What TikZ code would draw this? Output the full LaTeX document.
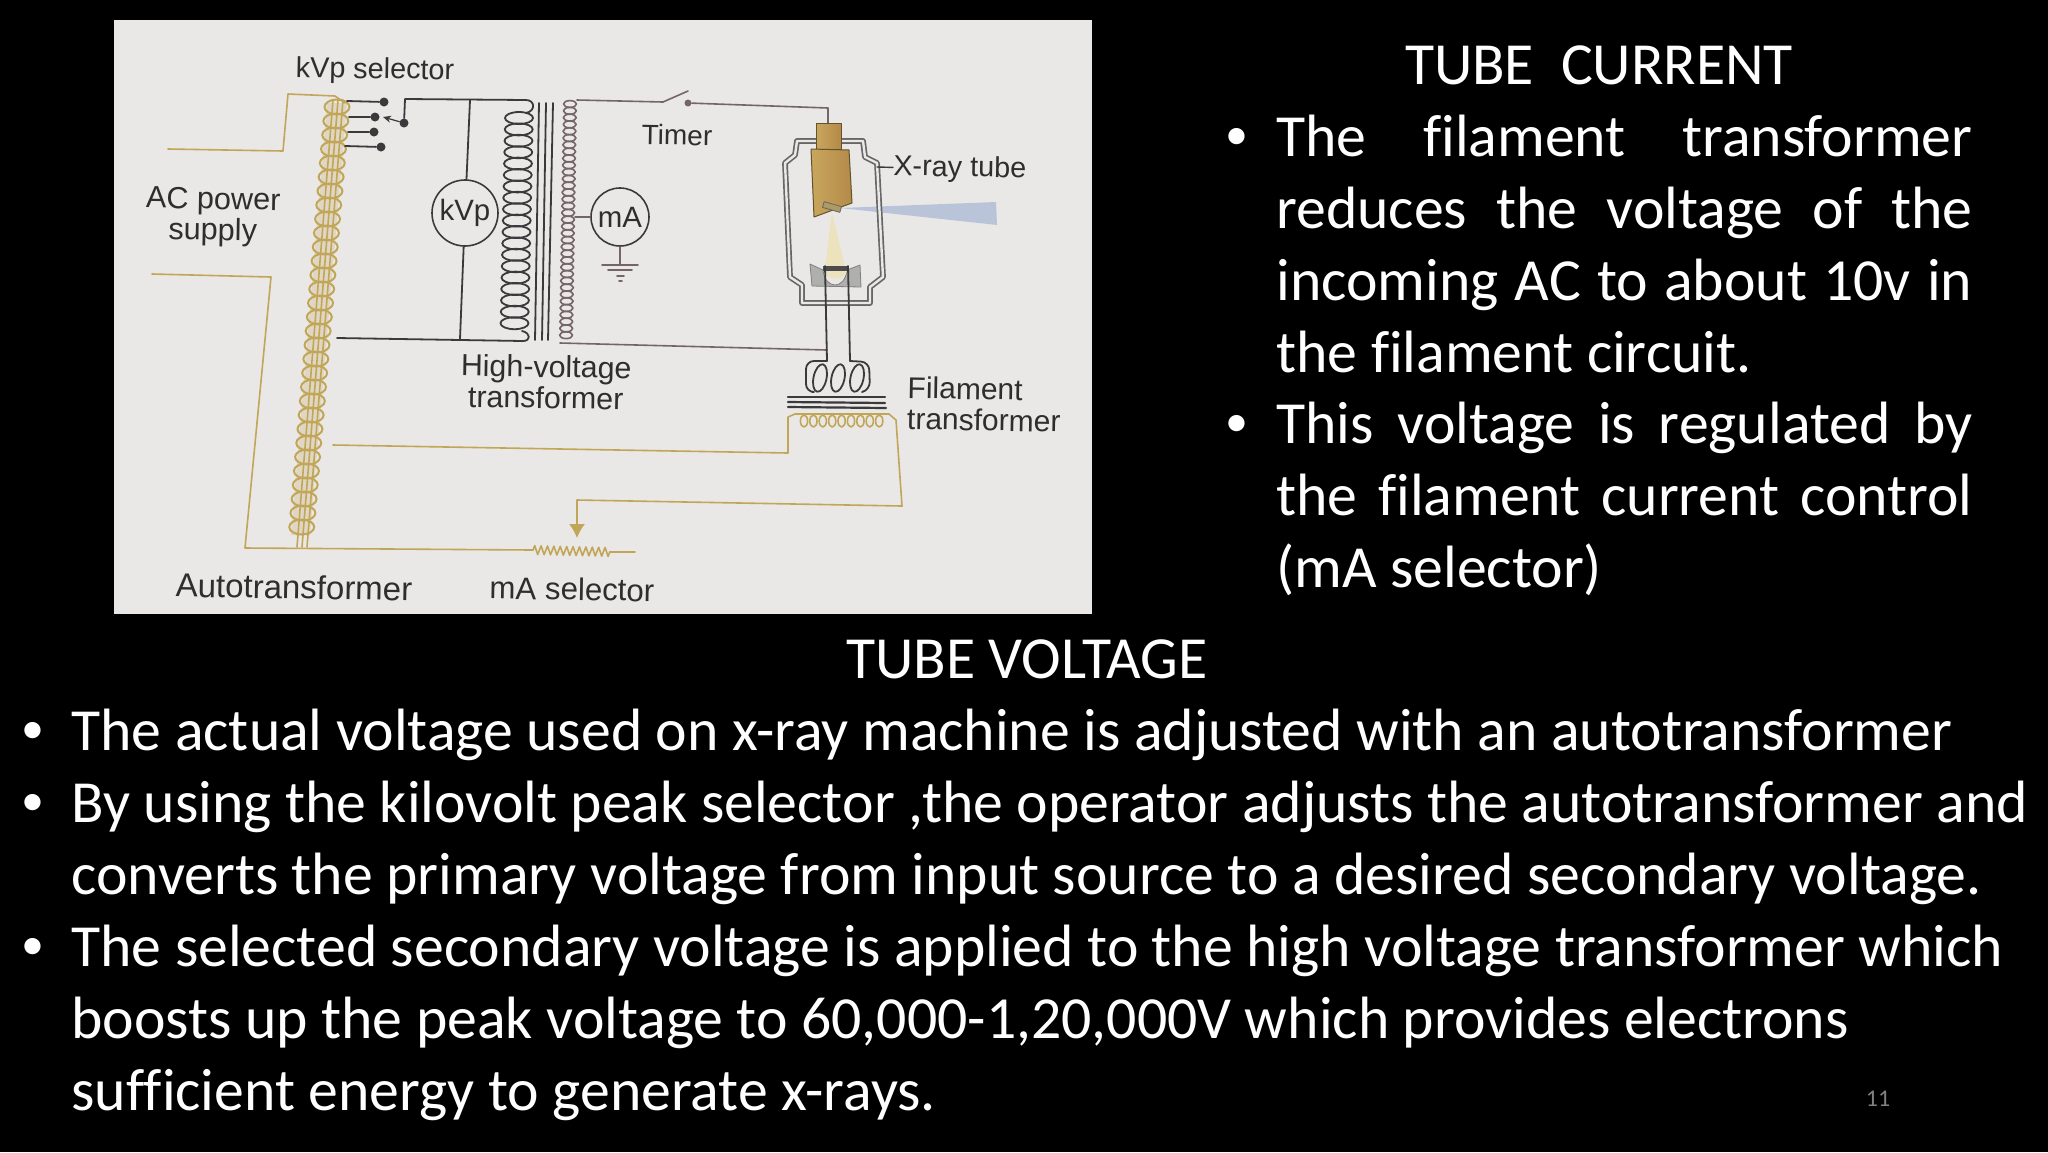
\documentclass[tikz,border=0pt]{standalone}
\usepackage{fontspec}
\usepackage{xcolor}
\setmainfont[Ligatures=NoCommon]{Carlito}
\newfontfamily\figfont{Liberation Sans}
\usetikzlibrary{arrows.meta,decorations.pathmorphing}
\definecolor{paper}{HTML}{E9E8E6}
\definecolor{gold}{HTML}{C2A658}
\definecolor{ink}{HTML}{3A3A3C}
\definecolor{rose}{HTML}{75646A}
\definecolor{brassL}{HTML}{C9A65E}
\definecolor{brassM}{HTML}{E6CD97}
\definecolor{brassR}{HTML}{B48A48}
\definecolor{xbeam}{HTML}{BAC4D9}
\definecolor{ebeam}{HTML}{EDE2BE}
\tikzset{
  wire/.style={draw=gold,line width=0.8pt},
  lead/.style={draw=ink,line width=0.9pt},
  thinlead/.style={draw=rose,line width=0.8pt},
  tag/.style={font=\figfont\fontsize{#1}{15.5}\selectfont,text=black!82,align=center,inner sep=0pt,rotate=-1},
  tag/.default=15,
  meter/.style={circle,draw=ink,line width=0.8pt,minimum size=#1,inner sep=0pt,font=\figfont\fontsize{14.7}{16}\selectfont,text=black!82},
  dot/.style={circle,fill=ink,inner sep=0pt,minimum size=4.5pt},
  slide/.style={font=\fontsize{29.87}{35.9}\selectfont,text=white,inner sep=0pt,anchor=north west,align=left},
  justi/.style={slide,text width=348pt,align=justify},
  head/.style={font=\fontsize{29.87}{35.9}\selectfont,text=white,inner sep=0pt},
  blob/.style={font=\fontsize{23}{24}\selectfont,text=white,inner sep=0pt}
}
\begin{document}
\begin{tikzpicture}[line cap=round,line join=round,x=0.5pt,y=-0.5pt]
\useasboundingbox (0,0) rectangle (2048,1152);
\fill[black] (0,0) rectangle (2048,1152);
\fill[paper] (114,20) rectangle (1092,614);
% autotransformer
\fill[gold!25!paper] (327,103)-- (347,103)-- (310,535)-- (291,535)-- cycle;
\foreach \i [evaluate=\i as \cy using 107+14*\i, evaluate=\i as \cx using 337-0.084*14*\i] in {0,...,30}
  \draw[wire,line width=1pt] (\cx,\cy) ellipse [x radius=12.5,y radius=7.5];
\draw[wire] (333,100)-- (297,547);
\draw[wire] (338,100)-- (302,547);
\draw[wire] (343,100)-- (307,547);
% mains and mA circuit
\draw[wire] (168,149)-- (283,151)-- (288,94)-- (335,96)-- (345,103);
\draw[wire] (152,274)-- (271,277)-- (245,548)-- (533,550);
\draw[wire,decorate,decoration={zigzag,segment length=3.2pt,amplitude=2.2pt}] (533,550)-- (610,552);
\draw[wire] (610,552)-- (635,552);
\draw[wire,-{Latex[length=7pt,width=8pt]}] (902,506)-- (577,500)-- (577,538);
\draw[wire] (902,506)-- (896,420)-- (889,414)-- (795,414)-- (788,417)-- (788,453)-- (333,445);
\foreach \i [evaluate=\i as \cx using 804+9.4*\i] in {0,...,8}
  \draw[wire] (\cx,421) ellipse [x radius=3.6,y radius=6];
% kVp selector
\node[dot] (tapA) at (384,102) {};
\node[dot] (tapB) at (375,117) {};
\node[dot] (tapC) at (374,132) {};
\node[dot] (tapD) at (381,147) {};
\node[dot] (pivot) at (404,123) {};
\coordinate (coilA) at (347,101);
\coordinate (coilB) at (349,117);
\coordinate (coilC) at (348,132);
\coordinate (coilD) at (345,146);
\draw[lead] (coilA)-- (tapA);
\draw[lead] (coilB)-- (tapB);
\draw[lead] (coilC)-- (tapC);
\draw[lead] (coilD)-- (tapD);
\draw[draw=ink,line width=0.6pt,-{Stealth[length=4pt,width=3.5pt]}] (pivot)-- (383,117);
% high-voltage transformer
\foreach \i [evaluate=\i as \cy using 118+11.4*\i, evaluate=\i as \cx using 519-0.022*11.4*\i] in {0,...,18}
  \draw[lead] (\cx,\cy) ellipse [x radius=14,y radius=6];
\draw[lead] (pivot)-- (405,99)-- (526,100) .. controls (535,100) and (536,111) .. (526,113);
\draw[lead] (337,338)-- (523,341) .. controls (531,341) and (531,333) .. (522,331);
\draw[lead] (539,103)-- (535,340);
\draw[lead] (546,103)-- (542,340);
\draw[lead] (553,103)-- (548,340);
\foreach \i [evaluate=\i as \cy using 104+6.8*\i, evaluate=\i as \cx using 570-0.017*6.8*\i] in {0,...,34}
  \draw[thinlead] (\cx,\cy) ellipse [x radius=6.5,y radius=3.4];
\node[meter=33pt] (kvp) at (465,213) {kVp};
\node[meter=29pt] (ma) at (620,217) {mA};
\coordinate (kvpTop) at (470,100);
\coordinate (kvpEnd) at (460,339);
\draw[lead] (kvpTop)-- (kvp);
\draw[lead] (kvp)-- (kvpEnd);
\coordinate (secTap) at (575,217);
\coordinate (gndTop) at (620,265);
\draw[thinlead] (secTap)-- (ma);
\draw[thinlead] (ma)-- (gndTop);
\draw[thinlead] (602,265)-- (638,265);
\draw[thinlead] (608,270)-- (632,270);
\draw[thinlead] (617,276)-- (624,276);
\draw[thinlead] (619,281)-- (622,281);
% timer
\node[dot,fill=rose,minimum size=3.5pt] (timerDot) at (688,103) {};
\draw[thinlead] (577,100)-- (663,102)-- (688,91);
\draw[thinlead] (timerDot)-- (828,108)-- (828,123);
\draw[thinlead] (560,343)-- (827,350);
% x-ray tube
\fill[xbeam] (840,208)-- (996,202)-- (997,225)-- cycle;
\fill[ebeam] (832,212)-- (825,267)-- (845,267)-- cycle;
\draw[draw=black!60,line width=0.85pt,double=paper,double distance=1.2pt] (797,141)-- (863,141)-- (865,157)-- (877,163)-- (883,277)-- (870,287)-- (870,303)-- (802,303)-- (802,285)-- (790,277)-- (785,163)-- (795,155)-- cycle;
\shade[left color=brassL,middle color=brassM,right color=brassR,draw=black!50!gold,line width=0.5pt] (816,123) rectangle (841,149);
\shade[left color=brassL,middle color=brassM,right color=brassR,draw=black!50!gold,line width=0.5pt] (811,149)-- (849,150)-- (852,203)-- (814,217)-- cycle;
\fill[draw=black!60,fill=gold!70!gray,rotate around={-16:(832,207)}] (823,204) rectangle (841,210);
\fill[draw=black!50,fill=gray!55!paper] (810,264)-- (823,270) .. controls (825,290) and (845,290) .. (847,270)-- (860,265)-- (861,287)-- (812,286)-- cycle;
\fill[ebeam] (824,271) .. controls (825,281) and (846,281) .. (847,271)-- cycle;
\fill[black!70] (823,266) rectangle (847,271);
\draw[lead] (825,266)-- (827,361);
\draw[lead] (848,266)-- (850,361);
\coordinate (tubeEdge) at (877,167);
\node[tag=14.4,anchor=west] (tubelab) at (893,168) {X-ray tube};
\draw[lead,line width=0.7pt] (tubeEdge)-- (tubelab);
% filament transformer
\draw[lead,rounded corners=4pt] (827,361)-- (806,361)-- (806,392)-- (812,392);
\draw[lead,rounded corners=4pt] (850,361)-- (869,362)-- (870,390)-- (862,392);
\draw[lead,rotate around={-12:(820,378)}] (820,378) ellipse [x radius=6.5,y radius=14];
\draw[lead,rotate around={-12:(838,378)}] (838,378) ellipse [x radius=6.5,y radius=14];
\draw[lead,rotate around={-12:(857,378)}] (857,378) ellipse [x radius=6.5,y radius=14];
\draw[lead,line width=1.1pt] (788,397)-- (885,397);
\draw[lead,line width=1.1pt] (788,402)-- (885,403);
\draw[lead,line width=1.1pt] (788,407)-- (886,408);
% labels on the figure
\node[tag=14.4] (kvplab) at (375,71) {kVp selector};
\node[tag=15.3] (aclab) at (213,217) {AC power\\supply};
\node[tag=14] (timerlab) at (677,135) {Timer};
\node[tag=15.2] (hvlab) at (546,382) {High-voltage\\transformer};
\node[tag=15,align=left,anchor=west] (fillab) at (907,403) {Filament\\transformer};
\node[tag=16.5] (autolab) at (294,587) {Autotransformer};
\node[tag=15.6] (malab) at (572,589) {mA selector};
% slide text
\node[head] (curhead) at (1599,65) {TUBE\ \ CURRENT};
\node[blob] (curdotA) at (1237,139) {\textbullet};
\node[justi] (curA) at (1276,115) {The filament transformer\linebreak reduces the voltage of the\linebreak incoming AC to about 10v in\linebreak the filament circuit.};
\node[blob] (curdotB) at (1237,426) {\textbullet};
\node[justi] (curB) at (1276,402) {This voltage is regulated by\linebreak the filament current control\linebreak (mA selector)};
\node[head] (volhead) at (1027,659) {TUBE VOLTAGE};
\node[blob] (voldotA) at (33,733) {\textbullet};
\node[slide] (volA) at (71,709) {The actual voltage used on x-ray machine is adjusted with an autotransformer};
\node[blob] (voldotB) at (33,805) {\textbullet};
\node[slide] (volB) at (71,781) {By using the kilovolt peak selector ,the operator adjusts the autotransformer and\\converts the primary voltage from input source to a desired secondary voltage.};
\node[blob] (voldotC) at (33,949) {\textbullet};
\node[slide] (volC) at (71,925) {The selected secondary voltage is applied to the high voltage transformer which\\boosts up the peak voltage to 60,000-1,20,000V which provides electrons\\sufficient energy to generate x-rays.};
\node[font=\fontsize{12}{14}\selectfont,text=black!50,inner sep=0pt] (pagenum) at (1878,1099) {11};
\end{tikzpicture}
\end{document}
